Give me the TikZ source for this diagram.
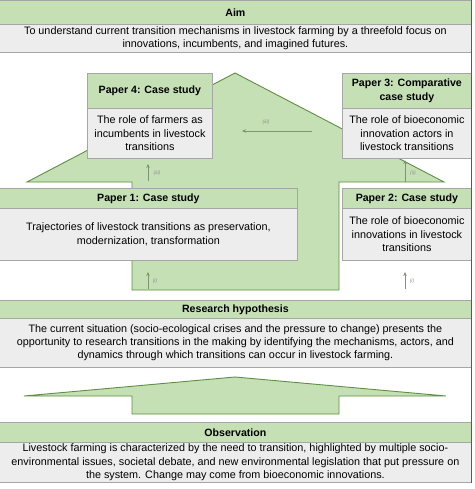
\documentclass[tikz,border=0pt]{standalone}
\usepackage{fontspec}
\setmainfont{Liberation Sans}
\usetikzlibrary{arrows.meta}
\definecolor{hdrgreen}{HTML}{C5E0B4}
\definecolor{bodygray}{HTML}{EDEDED}
\definecolor{boxline}{HTML}{A6A6A6}
\definecolor{arrowline}{HTML}{5E8F44}
\definecolor{smallarr}{HTML}{7F9477}
\definecolor{framegray}{HTML}{595959}
\begin{document}
\begin{tikzpicture}[x=1pt,y=-1pt,
  base/.style={draw=boxline, line width=0.8pt, inner sep=0pt, anchor=north west, align=center,
    font=\fontsize{10.8}{13.3}\selectfont},
  hdr/.style={base, fill=hdrgreen, font=\fontsize{10.6}{13.3}\selectfont\bfseries},
  body/.style={base, fill=bodygray},
  bigarrow/.style={fill=hdrgreen, draw=arrowline, line width=0.9pt, line join=miter},
  smallarrow/.style={draw=smallarr, line width=0.9pt, -{Stealth[length=4pt,width=3.5pt]}},
  tag/.style={font=\fontsize{5}{6}\selectfont\itshape, text=black!45, inner sep=0pt}
]
\useasboundingbox (0,0) rectangle (474,489);
\fill[white] (0,0) rectangle (474,489);

% big upward arrow (middle)
\draw[bigarrow] (132,290) -- (132,182) -- (27,182) -- (235,73) -- (444,182) -- (339,182) -- (339,290) -- cycle;
% lower upward arrow
\draw[bigarrow] (132,414) -- (132,396) -- (24,396) -- (235,377) -- (446,396) -- (339,396) -- (339,414) -- cycle;

% Aim
\node[hdr, minimum width=472pt, minimum height=24pt] (aimh) at (-1,0) {Aim};
\node[body, minimum width=472pt, minimum height=28pt] (aimb) at (-1,24)
  {To understand current transition mechanisms in livestock farming by a threefold focus on\\innovations, incumbents, and imagined futures.};

% Paper 4
\node[hdr, minimum width=125pt, minimum height=35pt] (p4h) at (87,73) {Paper 4: Case study};
\node[body, minimum width=125pt, minimum height=50pt] (p4b) at (87,108)
  {The role of farmers as\\incumbents in livestock\\transitions};

% Paper 3
\node[hdr, minimum width=129pt, minimum height=35pt] (p3h) at (342,73) {Paper 3: Comparative\\case study};
\node[body, minimum width=129pt, minimum height=50pt] (p3b) at (342,108)
  {The role of bioeconomic\\innovation actors in\\livestock transitions};

% Paper 1
\node[hdr, minimum width=298pt, minimum height=20pt] (p1h) at (-1,188) {Paper 1: Case study};
\node[body, minimum width=298pt, minimum height=52pt] (p1b) at (-1,208)
  {Trajectories of livestock transitions as preservation,\\modernization, transformation};

% Paper 2
\node[hdr, minimum width=129pt, minimum height=20pt] (p2h) at (342,188) {Paper 2: Case study};
\node[body, minimum width=129pt, minimum height=52pt] (p2b) at (342,208)
  {The role of bioeconomic\\innovations in livestock\\transitions};

% Research hypothesis
\node[hdr, minimum width=472pt, minimum height=18pt] (rhh) at (-1,300) {Research hypothesis};
\node[body, minimum width=472pt, minimum height=49pt] (rhb) at (-1,318)
  {The current situation (socio-ecological crises and the pressure to change) presents the\\opportunity to research transitions in the making by identifying the mechanisms, actors, and\\dynamics through which transitions can occur in livestock farming.};

% Observation
\node[hdr, minimum width=472pt, minimum height=20pt] (obh) at (-1,422) {Observation};
\node[body, minimum width=472pt, minimum height=40pt] (obb) at (-1,442)
  {Livestock farming is characterized by the need to transition, highlighted by multiple socio-\\environmental issues, societal debate, and new environmental legislation that put pressure on\\the system. Change may come from bioeconomic innovations.};

% small arrows
\coordinate (a3vs) at (148,181); \coordinate (a3ve) at (148,164);
\coordinate (a3hs) at (312,131); \coordinate (a3he) at (242,131);
\coordinate (a2s) at (405,182);  \coordinate (a2e) at (405,160);
\coordinate (a1ls) at (148,289); \coordinate (a1le) at (148,272);
\coordinate (a1rs) at (405,289); \coordinate (a1re) at (405,272);
\draw[smallarrow] (a3vs) -- (a3ve);
\draw[smallarrow] (a3hs) -- (a3he);
\draw[smallarrow] (a2s) -- (a2e);
\draw[smallarrow] (a1ls) -- (a1le);
\draw[smallarrow] (a1rs) -- (a1re);
\node[tag] (t3v) at (157,173) {(iii)};
\node[tag] (t3h) at (266,122) {(iii)};
\node[tag] (t2) at (413,173) {(ii)};
\node[tag] (t1l) at (155,281) {(i)};
\node[tag] (t1r) at (412,281) {(i)};

% right frame line
\draw[framegray, line width=0.9pt] (471.5,0) -- (471.5,483);
\end{tikzpicture}
\end{document}
